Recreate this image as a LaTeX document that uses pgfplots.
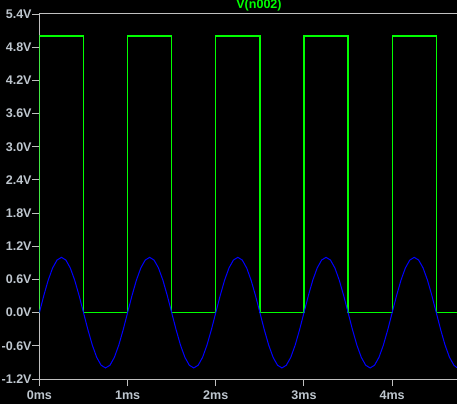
\documentclass[border=0pt]{standalone}
\usepackage{fontspec}
\setmainfont{Liberation Sans}
\usepackage{pgfplots}
\pgfplotsset{compat=1.18}
\definecolor{lbl}{RGB}{190,198,206}
\definecolor{axc}{RGB}{192,192,192}
\definecolor{sq}{RGB}{0,255,0}
\definecolor{sn}{RGB}{0,0,255}
\begin{document}
\begin{tikzpicture}[x=0.75pt,y=0.75pt]
\fill[black] (0,0) rectangle (457,404);
\useasboundingbox (0,0) rectangle (457,404);
\begin{axis}[
 at={(29.55pt,18.75pt)}, anchor=south west,
 scale only axis, width=313.2pt, height=273.75pt,
 xmin=0, xmax=4.735, ymin=-1.2, ymax=5.4,
 axis lines=left, axis line style={-, draw=axc, line width=0.75pt},
 xtick={0,1,2,3,4}, xticklabels={0ms,1ms,2ms,3ms,4ms},
 ytick={-1.2,-0.6,0,0.6,1.2,1.8,2.4,3.0,3.6,4.2,4.8,5.4},
 yticklabels={-1.2V,-0.6V,0.0V,0.6V,1.2V,1.8V,2.4V,3.0V,3.6V,4.2V,4.8V,5.4V},
 tick align=outside, major tick length=5.25pt,
 tick style={draw=axc, line width=0.75pt},
 every tick label/.append style={font=\bfseries\fontsize{9.4}{10}\selectfont, text=lbl},
 yticklabel style={inner xsep=0.4pt},
 clip=true,
]
\addplot[sq, line width=1pt] coordinates {
(0,0)(0,5)(0.5,5)(0.5,0)(1,0)(1,5)(1.5,5)(1.5,0)(2,0)(2,5)(2.5,5)(2.5,0)
(3,0)(3,5)(3.5,5)(3.5,0)(4,0)(4,5)(4.5,5)(4.5,0)(4.735,0)};
\addplot[sn, line width=0.75pt] coordinates {
(0.00,0)(0.05,0.309)(0.10,0.588)(0.15,0.809)(0.20,0.951)(0.25,1)(0.30,0.951)(0.35,0.809)(0.40,0.588)(0.45,0.309)
(0.50,0)(0.55,-0.309)(0.60,-0.588)(0.65,-0.809)(0.70,-0.951)(0.75,-1)(0.80,-0.951)(0.85,-0.809)(0.90,-0.588)(0.95,-0.309)
(1.00,0)(1.05,0.309)(1.10,0.588)(1.15,0.809)(1.20,0.951)(1.25,1)(1.30,0.951)(1.35,0.809)(1.40,0.588)(1.45,0.309)
(1.50,0)(1.55,-0.309)(1.60,-0.588)(1.65,-0.809)(1.70,-0.951)(1.75,-1)(1.80,-0.951)(1.85,-0.809)(1.90,-0.588)(1.95,-0.309)
(2.00,0)(2.05,0.309)(2.10,0.588)(2.15,0.809)(2.20,0.951)(2.25,1)(2.30,0.951)(2.35,0.809)(2.40,0.588)(2.45,0.309)
(2.50,0)(2.55,-0.309)(2.60,-0.588)(2.65,-0.809)(2.70,-0.951)(2.75,-1)(2.80,-0.951)(2.85,-0.809)(2.90,-0.588)(2.95,-0.309)
(3.00,0)(3.05,0.309)(3.10,0.588)(3.15,0.809)(3.20,0.951)(3.25,1)(3.30,0.951)(3.35,0.809)(3.40,0.588)(3.45,0.309)
(3.50,0)(3.55,-0.309)(3.60,-0.588)(3.65,-0.809)(3.70,-0.951)(3.75,-1)(3.80,-0.951)(3.85,-0.809)(3.90,-0.588)(3.95,-0.309)
(4.00,0)(4.05,0.309)(4.10,0.588)(4.15,0.809)(4.20,0.951)(4.25,1)(4.30,0.951)(4.35,0.809)(4.40,0.588)(4.45,0.309)
(4.50,0)(4.55,-0.309)(4.60,-0.588)(4.65,-0.809)(4.70,-0.951)(4.735,-0.996)};
\end{axis}
\draw[axc, line width=0.75pt] (39.4,390.3) -- (457,390.3);
\node[anchor=base, text=sq, font=\bfseries\fontsize{9.4}{10}\selectfont, inner sep=0pt] at (259,395) {V(n002)};
\end{tikzpicture}
\end{document}
